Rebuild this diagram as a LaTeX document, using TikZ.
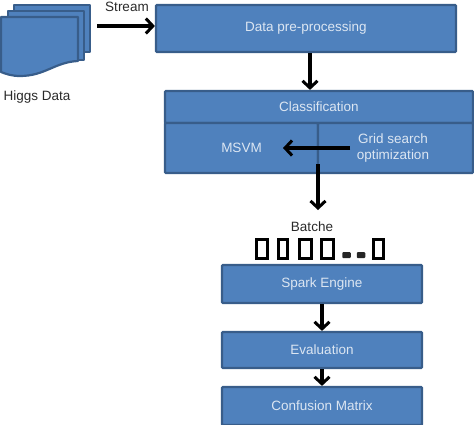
\documentclass[tikz,border=0pt]{standalone}
\usepackage{fontspec}
\setmainfont{Liberation Sans}
\usetikzlibrary{arrows.meta}
\definecolor{boxfill}{HTML}{4F81BD}
\definecolor{boxline}{HTML}{385D8A}
\definecolor{boxtext}{HTML}{DCE6F2}
\definecolor{inktext}{HTML}{2A2A2A}
\tikzset{
  bluebox/.style={draw=boxline,fill=boxfill,line width=2.2pt,rounded corners=1pt,inner sep=0pt,text=boxtext,font=\fontsize{13.5}{16}\selectfont,align=center},
  docshape/.style={draw=boxline,fill=boxfill,line width=2.2pt,line join=round},
  flow/.style={draw=black,line width=3.2pt,-{Straight Barb[length=7pt,width=15pt,line width=3pt]}},
  plainlabel/.style={text=inktext,inner sep=0pt,font=\fontsize{13.5}{16}\selectfont},
  batchcell/.style={draw=black,line width=2.8pt,inner sep=0pt,fill=white},
  batchdot/.style={fill=black!85,draw=none,rounded corners=1pt,inner sep=0pt}
}
\begin{document}
\begin{tikzpicture}[x=1pt,y=-1pt]
\useasboundingbox (0,0) rectangle (474,424);
% documents
\draw[docshape] (14,5) -- (90,5) -- (90,52) -- (14,52) -- cycle;
\draw[docshape] (8,11) -- (84,11) -- (84,60) -- (8,60) -- cycle;
\draw[docshape] (1,17) -- (78,17) -- (78,61) .. controls (55,62) and (45,76) .. (20,76) .. controls (12,76) and (6,74) .. (1,72) -- cycle;
\coordinate (docs) at (97,26);
\node[plainlabel] (higgs) at (37,97) {Higgs Data};
\node[plainlabel] (stream) at (127,6.5) {Stream};
% boxes
\node[bluebox,minimum width=300pt,minimum height=47pt] (data) at (306,28.5) {Data pre-processing};
\node[bluebox,minimum width=308pt,minimum height=32pt] (cls) at (319,107) {Classification};
\node[bluebox,minimum width=153pt,minimum height=50pt] (msvm) at (241.5,148) {MSVM};
\node[bluebox,minimum width=155pt,minimum height=50pt] (grid) at (395.5,148) {\hspace*{-5pt}Grid search\\\hspace*{-5pt}optimization};
\node[bluebox,minimum width=200pt,minimum height=38pt] (spark) at (322,284) {Spark Engine};
\node[bluebox,minimum width=200pt,minimum height=36pt] (eval) at (322,350) {Evaluation};
\node[bluebox,minimum width=200pt,minimum height=38pt] (conf) at (322,406) {Confusion Matrix};
% batch
\node[plainlabel] (batch) at (312,227) {Batche};
\node[batchcell,minimum width=11.5pt,minimum height=19.5pt] (c1) at (262,249) {};
\node[batchcell,minimum width=9.5pt,minimum height=19.5pt] (c2) at (283,249) {};
\node[batchcell,minimum width=12pt,minimum height=19.5pt] (c3) at (305.5,249) {};
\node[batchcell,minimum width=12pt,minimum height=19.5pt] (c4) at (327.5,249) {};
\node[batchdot,minimum width=8.5pt,minimum height=6pt] (d1) at (346.5,255) {};
\node[batchdot,minimum width=8.5pt,minimum height=6pt] (d2) at (361,255) {};
\node[batchcell,minimum width=10.5pt,minimum height=19.5pt] (c5) at (378.5,249) {};
% connectors
\draw[flow] (docs) -- (data.west |- docs);
\draw[flow] ([xshift=4pt]data.south) -- ([xshift=-9pt]cls.north);
\draw[flow] ([xshift=-45.5pt]grid.center) -- ([xshift=41.5pt]msvm.center);
\draw[flow] (318,164) -- (318,210);
\draw[flow] (spark.south) -- (eval.north);
\draw[flow] (eval.south) -- (conf.north);
\end{tikzpicture}
\end{document}
